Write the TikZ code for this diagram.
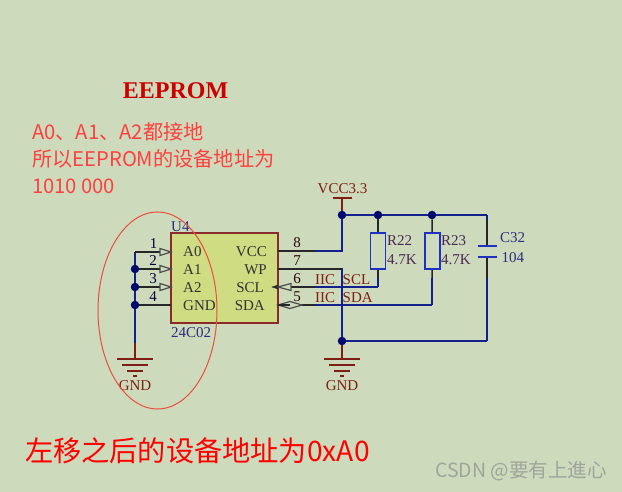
\documentclass[tikz,border=0pt]{standalone}
\usepackage{fontspec}
\setmainfont{Liberation Serif}
\newfontfamily\cjk{Noto Sans CJK SC}
\usetikzlibrary{positioning}
\definecolor{bg}{HTML}{CDDABB}
\definecolor{chipfill}{HTML}{CFDC82}
\definecolor{chipline}{HTML}{8B2A2A}
\definecolor{wirenavy}{HTML}{14218C}
\definecolor{dotnavy}{HTML}{000A6E}
\definecolor{brownred}{HTML}{7E1F14}
\definecolor{labelnavy}{HTML}{2A2F7E}
\definecolor{partblue}{HTML}{2030C0}
\definecolor{notered}{HTML}{FF4040}
\definecolor{wmgrey}{HTML}{A0A59C}
\tikzset{
	wire/.style={draw=wirenavy, line width=1.5pt},
	stub/.style={draw=black!85, line width=1.5pt},
	gndline/.style={draw=brownred, line width=1.5pt},
	junction/.style={circle, fill=dotnavy, inner sep=0pt, minimum size=8.5pt},
	txt/.style={inner sep=0pt, font=\fontsize{15}{15}\selectfont, text=black!80},
	netlabel/.style={inner sep=0pt, font=\fontsize{15}{15}\selectfont, text=brownred},
	pinno/.style={inner sep=0pt, font=\fontsize{15}{15}\selectfont, text=black!75!blue},
	partlabel/.style={inner sep=0pt, font=\fontsize{15}{15}\selectfont, text=labelnavy},
	resistor/.style={draw=partblue, line width=1.5pt, fill=bg, minimum width=15pt, minimum height=36pt, inner sep=0pt},
	note/.style={inner sep=0pt, anchor=west, text=notered, font=\cjk\fontsize{20.2}{20.2}\selectfont},
	hollow/.style={draw=black!70, line width=1.2pt, fill=bg}
}
\begin{document}
\begin{tikzpicture}[x=1pt,y=-1pt]
	\fill[bg] (0,0) rectangle (622,492);
	\useasboundingbox (0,0) rectangle (622,492);

	% texts on top
	\node[inner sep=0pt, text=red!80!black, font=\bfseries\fontsize{24}{24}\selectfont] (title) at (175.5,91) {EEPROM};
	\node[note] (note1) at (32,132) {A0、A1、A2都接地};
	\node[note] (note2) at (32,159) {所以EEPROM的设备地址为};
	\node[note] (note3) at (32,186) {1010 000};
	\node[note, text=red, font=\cjk\fontsize{28.2}{28.2}\selectfont] (note4) at (25,451) {左移之后的设备地址为0xA0};
	\node[inner sep=0pt, anchor=east, text=wmgrey, font=\cjk\fontsize{19.5}{19.5}\selectfont] (mark) at (607,471) {CSDN @要有上進心};

	% chip
	\node[draw=chipline, line width=1.5pt, fill=chipfill, minimum width=107pt, minimum height=90pt, inner sep=0pt] (U4) at (224.5,278) {};
	\node[partlabel, anchor=south west] (u4name) at (171,231.5) {U4};
	\node[partlabel, anchor=north west] (u4type) at (171,327) {24C02};
	\node[txt, anchor=west] (a0) at (183,252) {A0};
	\node[txt, anchor=west] (a1) at (183,270) {A1};
	\node[txt, anchor=west] (a2) at (183,288) {A2};
	\node[txt, anchor=west] (gndpin) at (183,306) {GND};
	\node[txt, anchor=east] (vcc) at (267,252) {VCC};
	\node[txt, anchor=east] (wp) at (267,270) {WP};
	\node[txt, anchor=east] (scl) at (264,288) {SCL};
	\node[txt, anchor=east] (sda) at (265,306) {SDA};

	% chip pins
	\coordinate (p1) at (171,252);
	\coordinate (p2) at (171,269);
	\coordinate (p3) at (171,287);
	\coordinate (p4) at (171,305);
	\coordinate (p8) at (278,251);
	\coordinate (p7) at (278,269);
	\coordinate (p6) at (278,287);
	\coordinate (p5) at (278,305);

	% left bus
	\coordinate (b1) at (135,252);
	\node[junction] (b2) at (135,269) {};
	\node[junction] (b3) at (135,287) {};
	\node[junction] (b4) at (135,305) {};
	\coordinate (b5) at (135,343);
	\coordinate (g1) at (135,359);
	\draw[wire] (b1) -- (b2) -- (b3) -- (b4) -- (b5);
	\draw[gndline] (b5) -- (g1);
	\draw[stub] (b1) -- (p1);
	\draw[stub] (b2) -- (p2);
	\draw[stub] (b3) -- (p3);
	\draw[stub] (b4) -- (p4);
	\draw[hollow] (171,252) -- (160,248.5) -- (160,255.5) -- cycle;
	\draw[hollow] (171,269) -- (160,265.5) -- (160,272.5) -- cycle;
	\draw[hollow] (171,287) -- (160,283.5) -- (160,290.5) -- cycle;
	\node[pinno] (n1) at (153.5,243.5) {1};
	\node[pinno] (n2) at (153,261) {2};
	\node[pinno] (n3) at (153,279) {3};
	\node[pinno] (n4) at (153,297) {4};

	% left ground
	\draw[gndline] ([xshift=-18pt]g1) -- ([xshift=18pt]g1);
	\draw[gndline] ([xshift=-13pt,yshift=-6pt]g1) -- ([xshift=13pt,yshift=-6pt]g1);
	\draw[gndline] ([xshift=-8pt,yshift=-12pt]g1) -- ([xshift=8pt,yshift=-12pt]g1);
	\draw[gndline] ([xshift=-2pt,yshift=-17pt]g1) -- ([xshift=2pt,yshift=-17pt]g1);
	\node[netlabel] (gnd1) at (135,386) {GND};

	% power rail
	\node[junction] (t1) at (342,215) {};
	\node[junction] (t2) at (378,215) {};
	\node[junction] (t3) at (432,215) {};
	\coordinate (t4) at (487,215);
	\coordinate (vccbar) at (342,198);
	\draw[wire] (t1) -- (t2) -- (t3) -- (t4);
	\draw[gndline] (vccbar) -- (t1);
	\draw[gndline] ([xshift=-9.5pt]vccbar) -- ([xshift=9.5pt]vccbar);
	\node[netlabel] (vcclabel) at (342.5,189) {VCC3.3};

	% lower rail
	\node[junction] (d1) at (342,341) {};
	\coordinate (d2) at (487,341);
	\coordinate (g2) at (342,359);
	\coordinate (c8) at (342,251);
	\coordinate (c7) at (342,269);
	\coordinate (c6) at (378,287);
	\coordinate (c5) at (432,305);
	\draw[gndline] (d1) -- (g2);
	\draw[gndline] ([xshift=-18pt]g2) -- ([xshift=18pt]g2);
	\draw[gndline] ([xshift=-13pt,yshift=-6pt]g2) -- ([xshift=13pt,yshift=-6pt]g2);
	\draw[gndline] ([xshift=-8pt,yshift=-12pt]g2) -- ([xshift=8pt,yshift=-12pt]g2);
	\draw[gndline] ([xshift=-2pt,yshift=-17pt]g2) -- ([xshift=2pt,yshift=-17pt]g2);
	\node[netlabel] (gnd2) at (342,386) {GND};

	% right side wires
	\draw[wire] (p8) -- (c8) -- (t1);
	\draw[wire] (p7) -- (c7) -- (d1) -- (d2);
	\draw[wire] (p6) -- (c6);
	\draw[wire] (p5) -- (c5);
	\draw[stub] (p8) -- (315,251);
	\draw[stub] (p7) -- (c7);
	\draw[stub] (p6) -- (315,287);
	\draw[stub] (p5) -- (315,305);

	% resistors
	\node[resistor] (r22) at (378,251) {};
	\node[resistor] (r23) at (432.5,251) {};
	\draw[stub] (t2) -- (r22);
	\draw[stub] (r22) -- (378,278);
	\draw[wire] (378,278) -- (c6);
	\draw[stub] (t3) -- (r23);
	\draw[stub] (r23) -- (432,278);
	\draw[wire] (432,278) -- (c5);
	\node[partlabel, text=brownred!40!labelnavy, anchor=west] (r22name) at (387,241) {R22};
	\node[partlabel, text=brownred!40!labelnavy, anchor=west] (r22val) at (387,259.5) {4.7K};
	\node[partlabel, text=brownred!40!labelnavy, anchor=west] (r23name) at (441,241) {R23};
	\node[partlabel, text=brownred!40!labelnavy, anchor=west] (r23val) at (441,259.5) {4.7K};

	% capacitor
	\coordinate (plate1) at (487,246);
	\coordinate (plate2) at (487,257);
	\draw[wire] (t4) -- (487,225);
	\draw[stub] (487,220) -- (plate1);
	\draw[stub] (plate2) -- (487,278);
	\draw[wire] (487,278) -- (d2);
	\draw[draw=partblue, line width=1.8pt] ([xshift=-9.5pt]plate1) -- ([xshift=9.5pt]plate1);
	\draw[draw=partblue, line width=1.8pt] ([xshift=-9.5pt]plate2) -- ([xshift=9.5pt]plate2);
	\node[partlabel, anchor=west] (c32name) at (500,238) {C32};
	\node[partlabel, anchor=west] (c32val) at (501.5,257.5) {104};

	% pin symbols on the right
	\draw[black!85, fill=black!85] (272,287) -- (278,285) -- (278,289) -- cycle;
	\draw[hollow] (278,287) -- (291,283.5) -- (291,290.5) -- cycle;
	\draw[hollow] (278,305) -- (290,301.5) -- (302,305) -- (290,308.5) -- cycle;
	\draw[black!85, line width=1.5pt] (p5) -- (290,305);
	\node[pinno, text=black!70!brownred] (n8) at (297,243) {8};
	\node[pinno, text=black!70!brownred] (n7) at (297,261) {7};
	\node[pinno, text=black!70!brownred] (n6) at (297,279) {6};
	\node[pinno, text=black!70!brownred] (n5) at (297,297) {5};

	% net names
	\node[netlabel, anchor=west] (iicscl) at (315,280) {IIC\ \ SCL};
	\node[netlabel, anchor=west] (iicsda) at (315,298) {IIC\ \ SDA};

	% circled address pins
	\draw[draw=red!65!bg, line width=1pt] (157.5,310.5) ellipse [x radius=59.5, y radius=98.5];
\end{tikzpicture}
\end{document}
